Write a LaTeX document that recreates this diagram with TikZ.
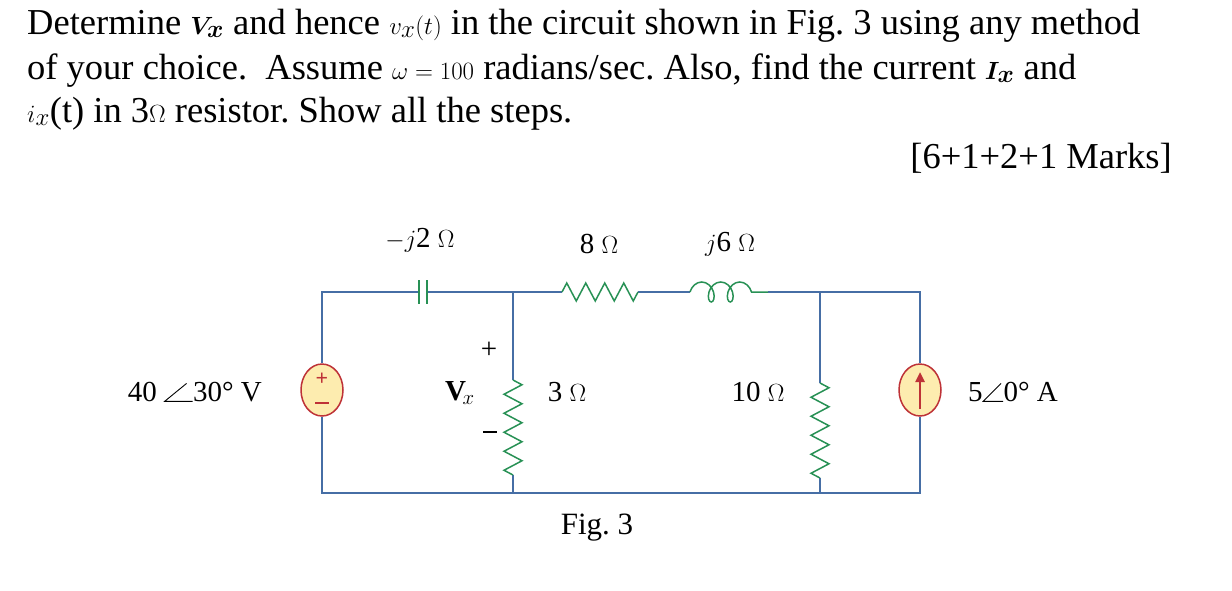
\documentclass[tikz,border=0pt]{standalone}
\usepackage{amsmath,bm}
\usepackage{fontspec}
\setmainfont{Liberation Serif}
\usetikzlibrary{decorations.pathmorphing,arrows.meta,shapes.geometric}
\definecolor{wire}{RGB}{70,110,165}
\definecolor{comp}{RGB}{40,145,85}
\definecolor{srcf}{RGB}{253,236,175}
\definecolor{srce}{RGB}{190,50,55}
\begin{document}
\begin{tikzpicture}[x=1pt,y=-1pt,
  txt/.style={anchor=base west,inner sep=0,font=\fontsize{36.5}{44}\selectfont},
  lab/.style={inner sep=0,font=\fontsize{29}{32}\selectfont},
  w/.style={draw=wire,line width=1.3pt},
  res/.style={draw=comp,line width=1.5pt,decorate,decoration={zigzag,segment length=19pt,amplitude=9pt}},
  ind/.style={draw=comp,line width=1.5pt,decorate,decoration={coil,aspect=0.7,segment length=19pt,amplitude=10pt}},
  src/.style={draw=srce,fill=srcf,line width=1.5pt,ellipse,minimum width=42pt,minimum height=52pt,inner sep=0}]
\useasboundingbox (0,0) rectangle (1232,590);
\frenchspacing
\node[txt] (l1) at (27,34) {Determine $\bm{V_x}$ and hence $v_x(t)$ in the circuit shown in Fig. 3 using any method};
\node[txt] (l2) at (27,79) {of your choice.\ \ Assume $\omega = 100$ radians/sec. Also, find the current $\bm{I_x}$ and};
\node[txt] (l3) at (27,122) {$i_x$(t) in 3$\Omega$ resistor. Show all the steps.};
\node[txt,anchor=base east] (mk) at (1172,168) {[6+1+2+1 Marks]};
% coordinates
\coordinate (tl) at (322,292); \coordinate (tm) at (513,292); \coordinate (tr) at (820,292); \coordinate (tf) at (920,292);
\coordinate (bl) at (322,493); \coordinate (bm) at (513,493); \coordinate (br) at (820,493); \coordinate (bf) at (920,493);
\coordinate (c1) at (419,292); \coordinate (c2) at (427,292);
\coordinate (r1a) at (562,292); \coordinate (r1b) at (638,292);
\coordinate (i1a) at (690,292); \coordinate (i1b) at (768,292);
\coordinate (r3a) at (513,380); \coordinate (r3b) at (513,475);
\coordinate (r10a) at (820,383); \coordinate (r10b) at (820,478);
\node[src] (vs) at (322,390) {};
\node[src] (is) at (920,390) {};
% wires
\draw[w] (vs.north) -- (tl) -- (c1) (c2) -- (tm) -- (r1a) (r1b) -- (i1a) (i1b) -- (tr) -- (tf) -- (is.north);
\draw[w] (vs.south) -- (bl) -- (bm) -- (br) -- (bf) -- (is.south);
\draw[w] (tm) -- (r3a) (r3b) -- (bm);
\draw[w] (tr) -- (r10a) (r10b) -- (br);
% components
\draw[comp,line width=1.4pt] (419,280) -- (419,304) (427,280) -- (427,304);
\draw[res] (r1a) -- (r1b);
\draw[ind] (i1a) -- (i1b);
\draw[res] (r3a) -- (r3b);
\draw[res] (r10a) -- (r10b);
% source symbols
\node[text=srce,inner sep=0,font=\bfseries\fontsize{22}{22}\selectfont] at (322,379) {+};
\draw[srce,line width=2.2pt] (315,403) -- (329,403);
\draw[srce,line width=2.4pt,-{Triangle[length=10pt,width=9pt]}] (920,409) -- (920,372);
% labels
\node[lab] (lc) at (420,240) {$-j$2 $\Omega$};
\node[lab] (lr1) at (599,244) {8 $\Omega$};
\node[lab] (li1) at (730,244) {$j$6 $\Omega$};
\node[lab] (lr3) at (567,392) {3 $\Omega$};
\node[lab] (lr10) at (758,392) {10 $\Omega$};
\node[lab] (pl) at (489,350) {+};
\draw[black,line width=2.2pt] (483,432) -- (497,432);
\node[lab] (vx) at (460,393) {\textbf{V}$_{\!x}$};
\node[lab,anchor=east] (lv) at (262,392) {40 \tikz[baseline,x=1pt,y=1pt]\draw[line width=0.9pt] (22,18)--(0,0)--(28,0);30\textdegree\ V};
\node[lab,anchor=west] (li) at (968,392) {5\tikz[baseline,x=1pt,y=1pt]\draw[line width=0.9pt] (18,18)--(0,0)--(20,0);0\textdegree\ A};
\node[lab,font=\fontsize{31}{34}\selectfont] (fig) at (597,528) {Fig. 3};
\end{tikzpicture}
\end{document}
